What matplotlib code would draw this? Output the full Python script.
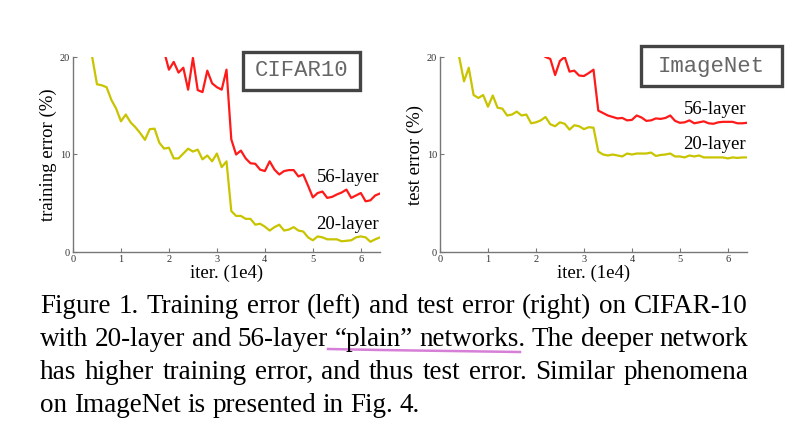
import matplotlib
matplotlib.use("Agg")
import matplotlib.pyplot as plt
from matplotlib.patches import Rectangle
from matplotlib.lines import Line2D

plt.rcParams['font.family'] = ['Liberation Serif', 'DejaVu Serif']

# CIFAR-10 training error (%)
cifar_x20 = [0.4, 0.5, 0.6, 0.7, 0.8, 0.9, 1.0, 1.1, 1.2, 1.3, 1.4, 1.5, 1.6, 1.7, 1.8, 1.9,
             2.0, 2.1, 2.2, 2.3, 2.4, 2.5, 2.6, 2.7, 2.8, 2.9, 3.0, 3.1, 3.2, 3.3, 3.4, 3.5,
             3.6, 3.7, 3.8, 3.9, 4.0, 4.1, 4.2, 4.3, 4.4, 4.5, 4.6, 4.7, 4.8, 4.9, 5.0, 5.1,
             5.2, 5.3, 5.4, 5.5, 5.6, 5.7, 5.8, 5.9, 6.0, 6.1, 6.2, 6.3, 6.4]
cifar_y20 = [20.0, 17.2, 17.1, 16.9, 15.6, 14.7, 13.4, 14.1, 13.3, 12.8, 12.2, 11.5, 12.6, 12.65,
             11.2, 10.6, 10.7, 9.6, 9.6, 10.1, 10.6, 10.3, 10.5, 9.5, 9.9, 9.3, 10.1, 8.7, 9.3,
             4.2, 3.7, 3.7, 3.4, 3.4, 2.8, 2.9, 2.6, 2.2, 2.55, 2.8, 2.2, 2.3, 2.55, 2.2, 2.1,
             1.5, 1.2, 1.6, 1.5, 1.3, 1.3, 1.3, 1.1, 1.15, 1.2, 1.5, 1.6, 1.5, 1.05, 1.3, 1.5]
cifar_x56 = [1.93, 2.0, 2.1, 2.2, 2.3, 2.4, 2.5, 2.6, 2.7, 2.8, 2.9, 3.0, 3.1, 3.2, 3.3, 3.4,
             3.5, 3.6, 3.7, 3.8, 3.9, 4.0, 4.1, 4.2, 4.3, 4.4, 4.5, 4.6, 4.7, 4.8, 4.9, 5.0,
             5.1, 5.2, 5.3, 5.4, 5.5, 5.6, 5.7, 5.8, 5.9, 6.0, 6.1, 6.2, 6.3, 6.4]
cifar_y56 = [20.0, 18.7, 19.5, 18.4, 18.9, 16.65, 19.9, 16.6, 16.4, 18.6, 17.3, 16.9, 16.65, 18.7,
             11.55, 10.0, 10.4, 9.6, 9.1, 9.05, 8.45, 8.3, 9.3, 8.45, 7.95, 8.3, 8.4, 8.4, 7.75,
             7.95, 6.8, 5.6, 6.05, 6.2, 5.55, 5.65, 5.9, 6.1, 6.4, 5.55, 5.8, 6.05, 5.2, 5.3,
             5.8, 6.0]

# ImageNet test error (%)
imnet_x20 = cifar_x20
imnet_y20 = [20.0, 17.5, 18.9, 16.1, 15.8, 16.1, 14.9, 16.05, 14.8, 14.7, 14.0, 14.1, 14.4, 14.0,
             14.1, 13.2, 13.3, 13.5, 13.85, 13.1, 12.9, 13.3, 13.15, 12.55, 13.0, 12.9, 12.6,
             12.8, 12.75, 10.3, 10.0, 9.9, 10.0, 9.9, 9.8, 10.1, 10.0, 10.1, 10.1, 10.1, 10.2,
             9.85, 9.95, 10.0, 10.1, 9.8, 9.8, 9.7, 9.9, 9.8, 9.9, 9.7, 9.7, 9.7, 9.7, 9.7,
             9.6, 9.7, 9.65, 9.7, 9.7]
imnet_x56 = [2.2, 2.3, 2.4, 2.5, 2.6, 2.7, 2.8, 2.9, 3.0, 3.1, 3.2, 3.3, 3.4, 3.5, 3.6, 3.7,
             3.8, 3.9, 4.0, 4.1, 4.2, 4.3, 4.4, 4.5, 4.6, 4.7, 4.8, 4.9, 5.0, 5.1, 5.2, 5.3,
             5.4, 5.5, 5.6, 5.7, 5.8, 5.9, 6.0, 6.1, 6.2, 6.3, 6.4]
imnet_y56 = [20.0, 19.8, 18.15, 19.6, 20.0, 18.5, 18.6, 18.1, 18.05, 18.35, 18.7, 14.5, 14.25,
             14.0, 13.85, 13.7, 13.75, 13.5, 13.55, 14.0, 13.8, 13.45, 13.5, 13.7, 13.65, 13.75,
             14.0, 13.45, 13.25, 13.3, 13.5, 13.2, 13.3, 13.4, 13.2, 13.15, 13.3, 13.35, 13.35,
             13.35, 13.2, 13.2, 13.25]

xticks = [0, 1, 2, 3, 4, 5, 6]
yticks = [0, 10, 20]

caption_lines = [
    "Figure 1. Training error (left) and test error (right) on CIFAR-10",
    "with 20-layer and 56-layer \u201cplain\u201d networks. The deeper network",
    "has higher training error, and thus test error.  Similar phenomena",
    "on ImageNet is presented in Fig. 4.",
]

RED = '#ff1a1a'
YEL = '#c8c400'
W, H = 812, 436

fig = plt.figure(figsize=(W / 100, H / 100), dpi=100)


def px(x, y):
    # pixel coords (top-left origin) -> figure fraction
    return x / W, 1 - y / H


def make_panel(left, ylabel, x20, y20, x56, y56, lab56_y, lab20_y, title, box):
    ax = fig.add_axes([left / W, 1 - 252 / H, 307 / W, 195 / H])
    ax.plot(x20, y20, color=YEL, lw=1.6)
    ax.plot(x56, y56, color=RED, lw=1.6)
    ax.set_xlim(0, 6.4)
    ax.set_ylim(0, 20)
    ax.set_xticks(xticks)
    ax.set_yticks(yticks)
    for s in ['top', 'right']:
        ax.spines[s].set_visible(False)
    for s in ['left', 'bottom']:
        ax.spines[s].set_color('#777777')
        ax.spines[s].set_linewidth(1.0)
    ax.tick_params(direction='in', length=3, width=0.8, color='#777777',
                   labelsize=7.5, labelcolor='#333333', pad=2)
    ax.set_xlabel("iter. (1e4)", fontsize=13.5, labelpad=1)
    ax.set_ylabel(ylabel, fontsize=13.5, labelpad=2)
    ax.text(6.38, lab56_y, "56-layer", fontsize=13.5, ha='right', va='center')
    ax.text(6.38, lab20_y, "20-layer", fontsize=13.5, ha='right', va='center')
    bx0, by0, bx1, by1 = box
    fx0, fy1 = px(bx0, by0)
    fx1, fy0 = px(bx1, by1)
    fig.patches.append(Rectangle((fx0, fy0), fx1 - fx0, fy1 - fy0, transform=fig.transFigure,
                                 fill=False, edgecolor='#444444', lw=2.4, figure=fig))
    fig.text((fx0 + fx1) / 2, (fy0 + fy1) / 2, title, family='Liberation Mono',
             fontsize=16, color='#666666', ha='center', va='center')
    return ax


make_panel(73, "training error (%)", cifar_x20, cifar_y20, cifar_x56, cifar_y56,
           7.6, 2.8, "CIFAR10", (243, 52, 360, 90))
make_panel(440, "test error (%)", imnet_x20, imnet_y20, imnet_x56, imnet_y56,
           14.6, 11.0, "ImageNet", (641, 46, 782, 86))

# justified caption
x_left, x_right = 40, 748
baselines = [313, 346, 379, 412]
fs = 19.5
fig.canvas.draw()
renderer = fig.canvas.get_renderer()
for i, line in enumerate(caption_lines):
    words = [w for w in line.split(' ') if w != '']
    texts = []
    widths = []
    for w in words:
        t = fig.text(0, 0, w, fontsize=fs, va='baseline', ha='left')
        widths.append(t.get_window_extent(renderer).width)
        texts.append(t)
    fy = 1 - baselines[i] / H
    if i < len(caption_lines) - 1:
        gap = (x_right - x_left - sum(widths)) / (len(words) - 1)
    else:
        gap = fs * 0.25 * 100 / 72
    x = x_left
    for t, wd in zip(texts, widths):
        t.set_position((x / W, fy))
        x += wd + gap

# pink hand-drawn underline
ux = [328, 380, 450, 520]
uy = [349, 350, 351, 352]
fig.lines.append(Line2D([v / W for v in ux], [1 - v / H for v in uy],
                        transform=fig.transFigure, color='#d67fd6', lw=1.8, figure=fig))

fig.savefig("out.png", dpi=100)
